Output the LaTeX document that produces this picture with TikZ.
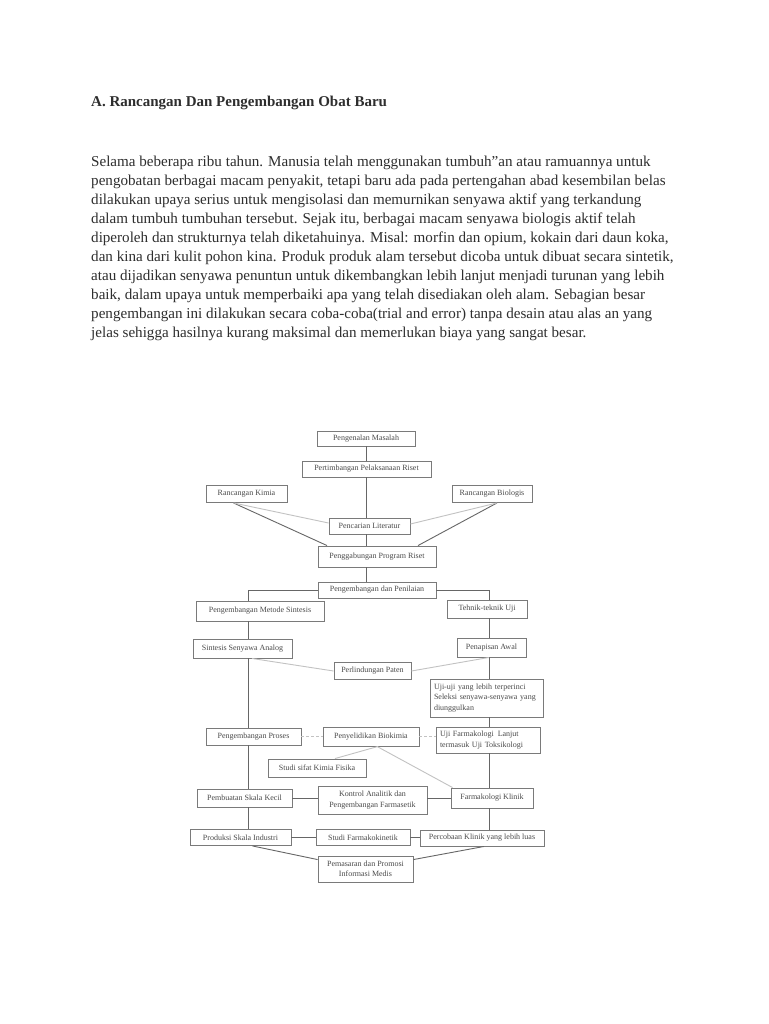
\documentclass[tikz,border=0pt]{standalone}
\usepackage{fontspec}
\setmainfont{Liberation Serif}
\definecolor{bodytext}{HTML}{2E2E2E}
\definecolor{boxline}{HTML}{7A7A7A}
\definecolor{boxtext}{HTML}{4A4A4A}
\definecolor{linkdark}{HTML}{666666}
\definecolor{linklight}{HTML}{C2C2C2}
\begin{document}
\begin{tikzpicture}[x=1pt,y=-1pt,
  bodyline/.style={anchor=west,inner sep=0pt,text=bodytext,font=\fontsize{15.1}{17}\selectfont},
  box/.style={draw=boxline,line width=0.9pt,fill=white,inner sep=1pt,text=boxtext,font=\fontsize{8}{10.5}\selectfont,align=center},
  link/.style={draw=linkdark,line width=0.9pt},
  faint/.style={draw=linklight,line width=0.9pt},
  dotlink/.style={draw=linklight,line width=0.9pt,densely dashed}]
\useasboundingbox[fill=white] (0,0) rectangle (768,1024);

% heading and paragraph
\node[bodyline,font=\bfseries\fontsize{15}{17}\selectfont] (head) at (91,103) {A. Rancangan Dan Pengembangan Obat Baru};
\node[bodyline] (l1) at (91,163) {Selama beberapa ribu tahun. Manusia telah menggunakan tumbuh"an atau ramuannya untuk};
\node[bodyline] (l2) at (91,182) {pengobatan berbagai macam penyakit, tetapi baru ada pada pertengahan abad kesembilan belas};
\node[bodyline] (l3) at (91,201) {dilakukan upaya serius untuk mengisolasi dan memurnikan senyawa aktif yang terkandung};
\node[bodyline] (l4) at (91,220) {dalam tumbuh tumbuhan tersebut. Sejak itu, berbagai macam senyawa biologis aktif telah};
\node[bodyline] (l5) at (91,239) {diperoleh dan strukturnya telah diketahuinya. Misal: morfin dan opium, kokain dari daun koka,};
\node[bodyline] (l6) at (91,258) {dan kina dari kulit pohon kina. Produk produk alam tersebut dicoba untuk dibuat secara sintetik,};
\node[bodyline] (l7) at (91,277) {atau dijadikan senyawa penuntun untuk dikembangkan lebih lanjut menjadi turunan yang lebih};
\node[bodyline] (l8) at (91,296) {baik, dalam upaya untuk memperbaiki apa yang telah disediakan oleh alam. Sebagian besar};
\node[bodyline] (l9) at (91,315) {pengembangan ini dilakukan secara coba-coba(trial and error) tanpa desain atau alas an yang};
\node[bodyline] (l10) at (91,334) {jelas sehigga hasilnya kurang maksimal dan memerlukan biaya yang sangat besar.};

% vertical guide coordinates
\coordinate (cx) at (366,0);
\coordinate (lx) at (248,0);
\coordinate (rx) at (489,0);

% boxes
\node[box,minimum width=98pt,minimum height=15pt] (pm) at (366,438.5) {Pengenalan Masalah};
\node[box,minimum width=129pt,minimum height=16pt] (pt) at (366.5,469) {Pertimbangan Pelaksanaan Riset};
\node[box,minimum width=81pt,minimum height=17pt] (rk) at (246.5,494) {Rancangan Kimia};
\node[box,minimum width=80pt,minimum height=17pt] (rb) at (492,494) {Rancangan Biologis};
\node[box,minimum width=81pt,minimum height=16pt] (pl) at (369.5,526) {Pencarian Literatur};
\node[box,minimum width=118pt,minimum height=21pt] (pg) at (377,556.5) {Penggabungan Program Riset};
\node[box,minimum width=118pt,minimum height=16pt] (pdp) at (377,590) {Pengembangan dan Penilaian};
\node[box,minimum width=128pt,minimum height=20pt] (pms) at (260,611) {Pengembangan Metode Sintesis};
\node[box,minimum width=80pt,minimum height=18pt] (tu) at (487,609) {Tehnik-teknik Uji};
\node[box,minimum width=99pt,minimum height=19pt] (ssa) at (242.5,648.5) {Sintesis Senyawa Analog};
\node[box,minimum width=69pt,minimum height=19pt] (pa) at (491.5,647.5) {Penapisan Awal};
\node[box,minimum width=77pt,minimum height=17pt] (pp) at (372.5,671) {Perlindungan Paten};
\node[box,minimum width=113pt,minimum height=38pt,text width=105pt,align=left] (uu) at (486.5,698) {Uji-uji yang lebih terperinci\\Seleksi senyawa-senyawa yang\\diunggulkan};
\node[box,minimum width=95pt,minimum height=17pt] (pps) at (253.5,736.5) {Pengembangan Proses};
\node[box,minimum width=96pt,minimum height=19pt] (pb) at (371,736.5) {Penyelidikan Biokimia};
\node[box,minimum width=104pt,minimum height=26pt,text width=96pt,align=left] (ufl) at (488,740) {Uji Farmakologi\enspace Lanjut\\termasuk Uji Toksikologi};
\node[box,minimum width=98pt,minimum height=18pt] (skf) at (317,768) {Studi sifat Kimia Fisika};
\node[box,minimum width=95pt,minimum height=18pt] (psk) at (244.5,798) {Pembuatan Skala Kecil};
\node[box,minimum width=109pt,minimum height=28pt] (kap) at (372.5,800) {Kontrol Analitik dan\\Pengembangan Farmasetik};
\node[box,minimum width=82pt,minimum height=20pt] (fk) at (492,798) {Farmakologi Klinik};
\node[box,minimum width=101pt,minimum height=16pt] (psi) at (240.5,837.5) {Produksi Skala Industri};
\node[box,minimum width=94pt,minimum height=16pt] (sfk) at (363,837.5) {Studi Farmakokinetik};
\node[box,minimum width=124pt,minimum height=16pt] (pkl) at (482,838) {Percobaan Klinik yang lebih luas};
\node[box,minimum width=95pt,minimum height=26pt] (pem) at (365.5,869) {Pemasaran dan Promosi\\Informasi Medis};

% connectors: central spine
\draw[link] (cx |- pm.south) -- (cx |- pt.north);
\draw[link] (cx |- pt.south) -- (cx |- pl.north);
\draw[link] (cx |- pl.south) -- (cx |- pg.north);
\draw[link] (cx |- pg.south) -- (cx |- pdp.north);
% design branches
\draw[link] ([xshift=-13pt]rk.south) -- ([xshift=-50pt]pg.north);
\draw[faint] ([xshift=-13pt]rk.south) -- ([yshift=3pt]pl.west);
\draw[link] ([xshift=5pt]rb.south) -- ([xshift=41pt]pg.north);
\draw[faint] ([xshift=5pt]rb.south) -- ([yshift=2pt]pl.east);
% split
\draw[link] (pdp.west) -| (lx |- pms.north);
\draw[link] (pdp.east) -| (rx |- tu.north);
% left spine
\draw[link] (lx |- pms.south) -- (lx |- ssa.north);
\draw[link] (lx |- ssa.south) -- (lx |- pps.north);
\draw[link] (lx |- pps.south) -- (lx |- psk.north);
\draw[link] (lx |- psk.south) -- (lx |- psi.north);
% right spine
\draw[link] (rx |- tu.south) -- (rx |- pa.north);
\draw[link] (rx |- pa.south) -- (rx |- uu.north);
\draw[link] (rx |- uu.south) -- (rx |- ufl.north);
\draw[link] (rx |- ufl.south) -- (rx |- fk.north);
\draw[link] (rx |- fk.south) -- (rx |- pkl.north);
% patents
\draw[faint] ([xshift=9.5pt]ssa.south) -- (pp.west);
\draw[faint] (rx |- pa.south) -- (pp.east);
% biochemistry
\draw[dotlink] (pps.east) -- (pps.east -| pb.west);
\draw[dotlink] (pb.east) -- (pb.east -| ufl.west);
\draw[faint] ([xshift=7pt]pb.south) -- ([xshift=18pt]skf.north);
\draw[faint] ([xshift=6pt]pb.south) -- ([xshift=2pt]fk.north west);
% lower rows
\draw[link] (psk.east) -- (psk.east -| kap.west);
\draw[link] (fk.west -| kap.east) -- (fk.west);
\draw[link] (psi.east) -- (psi.east -| sfk.west);
\draw[link] (sfk.east) -- (sfk.east -| pkl.west);
\draw[link] ([xshift=12pt]psi.south) -- ([yshift=-4pt]pem.north west);
\draw[link] ([xshift=2pt]pkl.south) -- ([yshift=-4pt]pem.north east);
\end{tikzpicture}
\end{document}
